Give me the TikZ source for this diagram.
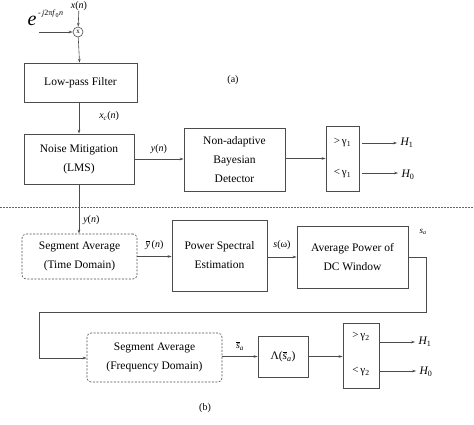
\documentclass[tikz,border=0pt]{standalone}
\usepackage{fontspec}
\setmainfont{LiberationSerif}[Extension=.ttf, UprightFont=*-Regular, ItalicFont=*-Italic, BoldFont=*-Bold, BoldItalicFont=*-BoldItalic]
\usetikzlibrary{arrows.meta}
\begin{document}
\begin{tikzpicture}[x=1pt,y=-1pt,
  every node/.style={font=\fontsize{11.5}{19}\selectfont, text=black},
  box/.style={draw=black!70, line width=0.6pt, align=center, inner sep=0pt},
  dbox/.style={box, dashed, dash pattern=on 2pt off 1.5pt, rounded corners=4pt},
  lbl/.style={font=\fontsize{10}{12}\selectfont, inner sep=0pt},
  arr/.style={draw=black!70, line width=0.6pt, -{Stealth[length=4pt,width=2.6pt]}},
  ln/.style={draw=black!70, line width=0.6pt}]
\useasboundingbox (0,0) rectangle (474,424);

% part (a)
\node[lbl] (xn) at (79,6) {\textit{x}(\textit{n})};
\node[draw=black!70, line width=0.6pt, circle, minimum size=10pt, inner sep=0pt, font=\fontsize{7}{8}\selectfont] (mul) at (78,32) {x};
\node[inner sep=0pt, font=\fontsize{20}{20}\selectfont\itshape] (e) at (32,21) {e};
\node[lbl, anchor=west, font=\fontsize{8}{9}\selectfont] (expo) at (38,14) {-\,\textit{j}2π\textit{f}\textsubscript{0}\textit{n}};
\coordinate (ein) at (39,32);
\draw[arr] (xn) -- (mul);
\draw[arr] (ein) -- (mul);
\node[box, minimum width=113, minimum height=39] (lpf) at (80.5,82.5) {Low-pass Filter};
\draw[arr] (mul) -- (lpf);
\node[lbl] (la) at (233,80) {(a)};
\node[box, minimum width=110, minimum height=50] (nm) at (79,159) {Noise Mitigation\\(LMS)};
\draw[arr] (lpf.south -| nm.north) -- (nm.north) node[lbl, pos=0.45, right=20pt] {\textit{x}\textsubscript{\textit{c}}(\textit{n})};
\node[box, minimum width=101, minimum height=63] (bd) at (234.5,159.5) {Non-adaptive\\Bayesian\\Detector};
\draw[arr] (nm.east) -- (nm.east -| bd.west) node[lbl, midway, above=5pt] {\textit{y}(\textit{n})};
\node[box, minimum width=33, minimum height=65] (d1) at (342.5,158.5) {};
\node[font=\fontsize{11}{12}\selectfont] (g1a) at (342.5,143) {>\,γ\textsubscript{1}};
\node[font=\fontsize{11}{12}\selectfont] (g1b) at (342.5,174) {<\,γ\textsubscript{1}};
\draw[arr] (bd.east |- d1.west) -- (d1.west);
\node[font=\fontsize{11.5}{12}\selectfont\itshape] (h1a) at (407,143) {H\textsubscript{\upshape 1}};
\node[font=\fontsize{11.5}{12}\selectfont\itshape] (h0a) at (408,175) {H\textsubscript{\upshape 0}};
\coordinate (o1a) at (362,143);
\coordinate (o1b) at (362,173);
\draw[arr] (o1a) -- (o1a -| h1a.west);
\draw[arr] (o1b) -- (o1b -| h0a.west);

% separator
\coordinate (sl) at (0,207);
\coordinate (sr) at (474,207);
\draw[black!60, line width=0.5pt, dash pattern=on 1.5pt off 1.5pt] (sl) -- (sr);

% part (b)
\node[dbox, minimum width=115, minimum height=45] (sat) at (79.5,256.5) {Segment Average\\(Time Domain)};
\draw[arr] (nm.south) -- (nm.south |- sat.north) node[lbl, pos=0.72, right=4pt] {\textit{y}(\textit{n})};
\node[box, minimum width=95, minimum height=71] (pse) at (219.5,255.5) {Power Spectral\\Estimation};
\draw[arr] (sat.east) -- (sat.east -| pse.west) node[lbl, midway, above=7pt] {$\overline{\mbox{\textit{y}}}$\,(\textit{n})};
\node[box, minimum width=111, minimum height=62] (apw) at (352.5,257) {Average Power of\\DC Window};
\draw[arr] (pse.east |- apw.west) -- (apw.west) node[lbl, midway, above=7pt] {\textit{s}(ω)};
\node[dbox, minimum width=135, minimum height=49] (saf) at (154.5,357.5) {Segment Average\\(Frequency Domain)};
\coordinate (c1) at (426,257);
\coordinate (c2) at (426,312);
\coordinate (c3) at (39,312);
\coordinate (c4) at (39,358);
\node[lbl, font=\fontsize{9}{10}\selectfont] (sa) at (423,232) {\textit{s}\textsubscript{\textit{a}}};
\draw[ln] (apw.east |- c1) -- (c1) -- (c2) -- (c3) -- (c4);
\draw[arr] (c4) -- (c4 -| saf.west);
\node[box, minimum width=50, minimum height=41] (lam) at (283,356.5) {Λ($\overline{\mbox{\textit{s}}}$\textsubscript{\textit{a}})};
\draw[arr] (saf.east |- lam.west) -- (lam.west) node[lbl, midway, above=6pt] {$\overline{\mbox{\textit{s}}}$\textsubscript{\textit{a}}};
\node[box, minimum width=36, minimum height=65] (d2) at (361,355.5) {};
\node[font=\fontsize{11}{12}\selectfont] (g2a) at (361,337) {>\,γ\textsubscript{2}};
\node[font=\fontsize{11}{12}\selectfont] (g2b) at (361,372) {<\,γ\textsubscript{2}};
\draw[arr] (lam.east) -- (lam.east -| d2.west);
\node[font=\fontsize{11.5}{12}\selectfont\itshape] (h1b) at (425,342) {H\textsubscript{\upshape 1}};
\node[font=\fontsize{11.5}{12}\selectfont\itshape] (h0b) at (426,372) {H\textsubscript{\upshape 0}};
\coordinate (o2a) at (379,342);
\coordinate (o2b) at (379,371);
\draw[arr] (o2a) -- (o2a -| h1b.west);
\draw[arr] (o2b) -- (o2b -| h0b.west);
\node[lbl] (lb) at (205,408) {(b)};
\end{tikzpicture}
\end{document}
